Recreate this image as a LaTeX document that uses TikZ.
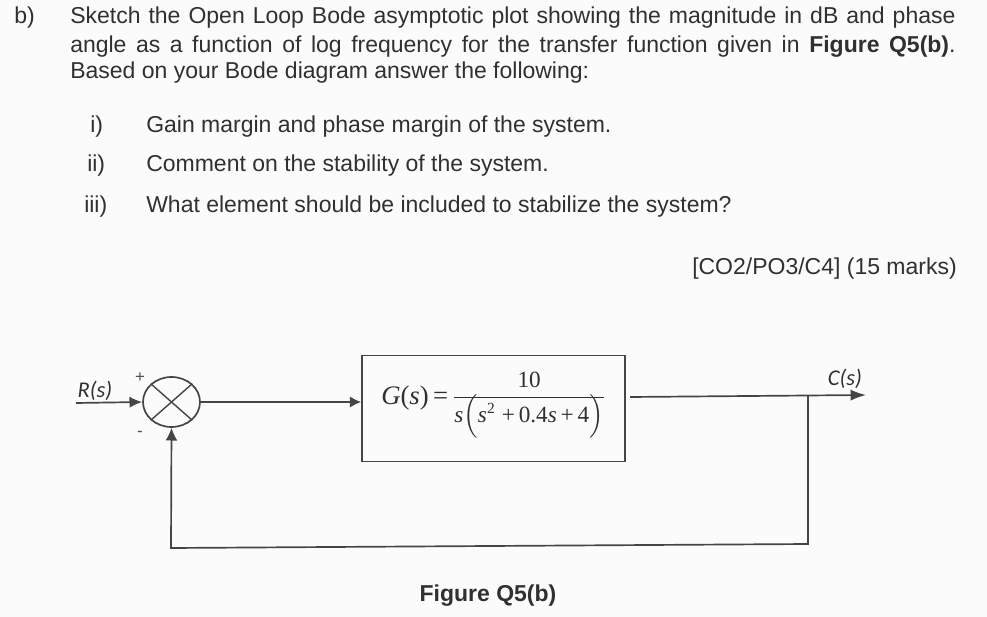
\documentclass[tikz,border=0pt]{standalone}
\usepackage{amsmath}
\usepackage[no-math]{fontspec}
\setmainfont{Liberation Sans}
\newfontfamily\labelfont{Carlito}
\newfontfamily\formulafont{Liberation Serif}
\usetikzlibrary{arrows.meta}
\usetikzlibrary{shapes.geometric}
\definecolor{inkgray}{HTML}{303030}
\newcommand{\fm}[1]{\text{\formulafont #1}}
\newcommand{\fv}[1]{\text{\formulafont\itshape #1}}
\newcommand{\fb}[1]{\text{\fontsize{19pt}{21pt}\selectfont\formulafont #1}}
\newcommand{\fsup}{\text{\fontsize{11pt}{12pt}\selectfont\formulafont 2}}
\tikzset{
	question/.style = {anchor=base west,inner sep=0pt,font=\fontsize{16.35pt}{19pt}\selectfont,text=inkgray},
	sideword/.style = {anchor=base,inner sep=0pt,font=\labelfont\itshape\fontsize{16pt}{18pt}\selectfont,text=inkgray},
	wire/.style = {draw=inkgray!90,line width=1.2pt}
}
\begin{document}
\begin{tikzpicture}[>=latex,x=0.025cm,y=-0.025cm]
			\useasboundingbox[fill=white!98.5!black] (0,0) rectangle (987,617);
			\node[question] (partb) at (14,24) {b)};
			\node[question] (line1) at (70,24) {\makebox[22.125cm][s]{Sketch the Open Loop Bode asymptotic plot showing the magnitude in dB and phase}};
			\node[question] (line2) at (70,53) {\makebox[22.125cm][s]{angle as a function of log frequency for the transfer function given in \textbf{Figure Q5(b)}.}};
			\node[question] (line3) at (70,79) {Based on your Bode diagram answer the following:};
			\node[question] (num1) at (90,133) {i)};
			\node[question] (item1) at (146,133) {Gain margin and phase margin of the system.};
			\node[question] (num2) at (87,172) {ii)};
			\node[question] (item2) at (146,172) {Comment on the stability of the system.};
			\node[question] (num3) at (84,212) {iii)};
			\node[question] (item3) at (146,212) {What element should be included to stabilize the system?};
			\node[question,anchor=base east] (marks) at (957,274) {[CO2/PO3/C4] (15 marks)};
			\node[ellipse,draw=inkgray!90,line width=1.2pt,minimum width=57*0.025cm,minimum height=50*0.025cm,inner sep=0pt] (sum) at (171.5,402) {};
			\draw[wire,line width=1pt] (sum.north west) -- (sum.south east);
			\draw[wire,line width=1pt] (sum.north east) -- (sum.south west);
			\node[draw=inkgray!90,line width=1.2pt,minimum width=263*0.025cm,minimum height=106*0.025cm,inner sep=0pt] (plant) at (493.5,408.5) {};
			\node[inner sep=0pt,text=inkgray,font=\fontsize{16.5pt}{19pt}\selectfont,anchor=base west] (gain) at (381,404) {\(\text{\fontsize{19pt}{21pt}\selectfont\formulafont\itshape G}\fb{(}\text{\fontsize{19pt}{21pt}\selectfont\formulafont\itshape s}\fb{)\,=\,}\dfrac{\raisebox{0pt}[0pt][0pt]{\fm{10}}}{\raisebox{-1.5pt}[0pt][0pt]{\(\fv{s}\Bigl(\fv{s}^{\fsup}\fm{\;+\,0.4}\fv{s}\fm{\,+\,4}\Bigr)\)}}\)};
			\coordinate (input) at (76,403);
			\coordinate (outstart) at (630,397);
			\coordinate (output) at (866,395);
			\coordinate (branch) at (808,396);
			\coordinate (corner1) at (808,544);
			\coordinate (corner2) at (171,548);
			\draw[wire,-{Latex[length=9pt,width=8pt]}] (input) -- (sum.west);
			\draw[wire,-{Latex[length=8pt,width=8pt]}] (sum.east) -- (plant.west |- sum.east);
			\draw[wire,-{Latex[length=11pt,width=8pt]}] (outstart) -- (output);
			\draw[wire,-{Latex[length=9pt,width=8.5pt]}] (branch) -- (corner1) -- (corner2) -- (sum.south);
			\node[sideword] (rlabel) at (95,397) {R(s)};
			\node[sideword] (clabel) at (845,385) {C(s)};
			\node[inner sep=0pt,text=inkgray!85,font=\fontsize{12pt}{14pt}\selectfont] (plus) at (140,378) {+};
			\node[inner sep=0pt,text=inkgray!85,font=\fontsize{12pt}{14pt}\selectfont] (minus) at (140,434) {-};
			\node[question,anchor=base] (caption) at (488,601) {\textbf{Figure Q5(b)}};
		\end{tikzpicture}
\end{document}
